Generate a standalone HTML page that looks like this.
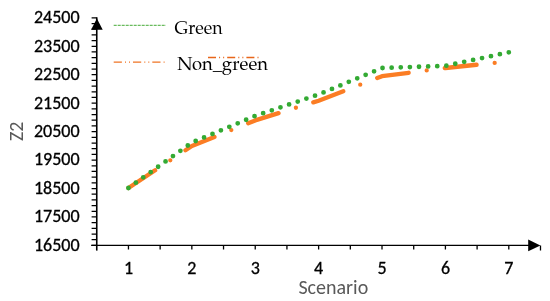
<!DOCTYPE html>
<html><head><meta charset="utf-8"><style>
html,body{margin:0;padding:0;background:#fff;}
svg{display:block;}
.tl{font-family:"Carlito","Liberation Sans",sans-serif;font-size:18px;fill:#000;stroke:#000;stroke-width:0.3px;}
.tt{font-family:"Carlito","Liberation Sans",sans-serif;font-size:20px;fill:#595959;}
.lg{font-family:"TeX Gyre Pagella","Liberation Serif",serif;font-size:18px;fill:#000;}
</style></head><body>
<svg width="550" height="301" viewBox="0 0 550 301">
<rect width="550" height="301" fill="#fff"/>
<path d="M91.6 245.40H96.75 M91.6 239.71H96.75 M91.6 234.02H96.75 M91.6 228.33H96.75 M91.6 222.64H96.75 M91.6 216.96H96.75 M91.6 211.27H96.75 M91.6 205.58H96.75 M91.6 199.89H96.75 M91.6 194.20H96.75 M91.6 188.51H96.75 M91.6 182.82H96.75 M91.6 177.13H96.75 M91.6 171.44H96.75 M91.6 165.75H96.75 M91.6 160.06H96.75 M91.6 154.38H96.75 M91.6 148.69H96.75 M91.6 143.00H96.75 M91.6 137.31H96.75 M91.6 131.62H96.75 M91.6 125.93H96.75 M91.6 120.24H96.75 M91.6 114.55H96.75 M91.6 108.86H96.75 M91.6 103.18H96.75 M91.6 97.49H96.75 M91.6 91.80H96.75 M91.6 86.11H96.75 M91.6 80.42H96.75 M91.6 74.73H96.75 M91.6 69.04H96.75 M91.6 63.35H96.75 M91.6 57.66H96.75 M91.6 51.97H96.75 M91.6 46.28H96.75 M91.6 40.60H96.75 M91.6 34.91H96.75 M91.6 29.22H96.75 M91.6 23.53H96.75 M91.6 17.84H96.75" stroke="#000" stroke-width="1.25" fill="none"/>
<path d="M128.45 245.40V249.6 M160.14 245.40V249.6 M191.84 245.40V249.6 M223.53 245.40V249.6 M255.23 245.40V249.6 M286.93 245.40V249.6 M318.62 245.40V249.6 M350.32 245.40V249.6 M382.01 245.40V249.6 M413.71 245.40V249.6 M445.41 245.40V249.6 M477.10 245.40V249.6 M508.80 245.40V249.6 M540.49 245.40V250.6" stroke="#000" stroke-width="1.3" fill="none"/>
<path d="M96.75 250.6V17.3" stroke="#000" stroke-width="1.6" fill="none"/>
<path d="M91.2 245.4H530" stroke="#000" stroke-width="1.4" fill="none"/>
<polygon points="96.9,18.6 91.1,29.8 102.7,29.8" fill="#000"/>
<polygon points="540.4,245.4 528.2,239.5 528.2,251.2" fill="#000"/>
<g class="tl"><text x="79.6" y="250.80" text-anchor="end">16500</text><text x="79.6" y="222.36" text-anchor="end">17500</text><text x="79.6" y="193.91" text-anchor="end">18500</text><text x="79.6" y="165.47" text-anchor="end">19500</text><text x="79.6" y="137.02" text-anchor="end">20500</text><text x="79.6" y="108.58" text-anchor="end">21500</text><text x="79.6" y="80.13" text-anchor="end">22500</text><text x="79.6" y="51.68" text-anchor="end">23500</text><text x="79.6" y="23.24" text-anchor="end">24500</text><text x="128.45" y="273.6" text-anchor="middle">1</text><text x="191.85" y="273.6" text-anchor="middle">2</text><text x="255.25" y="273.6" text-anchor="middle">3</text><text x="318.65" y="273.6" text-anchor="middle">4</text><text x="382.05" y="273.6" text-anchor="middle">5</text><text x="445.45" y="273.6" text-anchor="middle">6</text><text x="508.85" y="273.6" text-anchor="middle">7</text></g>
<text class="tt" x="333.3" y="293.7" text-anchor="middle">Scenario</text>
<text class="tt" transform="translate(23.2,131.3) rotate(-90)" text-anchor="middle">Z2</text>
<polyline points="128.45,188.00 191.85,146.00 255.25,120.40 318.65,100.70 382.05,76.20 445.45,68.00 508.85,61.40" fill="none" stroke="#fb7d24" stroke-width="4.3" stroke-linecap="round" stroke-linejoin="round" stroke-dasharray="32 18.2 0 18.2"/>
<polyline points="128.45,188.00 191.85,142.60 255.25,115.90 318.65,94.45 382.05,68.00 445.45,65.87 508.85,52.30" fill="none" stroke="#33aa33" stroke-width="4.8" stroke-linecap="round" stroke-linejoin="round" stroke-dasharray="0 9.125"/>
<path d="M113.7 25.4H166" stroke="#6abb5e" stroke-width="1.2" stroke-dasharray="3 1"/>
<path d="M113.7 62.1H165" stroke="#f07424" stroke-width="1.4" stroke-dasharray="8.2 3.1 1 3 1 3"/>
<path d="M208 57.5H259" stroke="#e8661a" stroke-width="1.3" stroke-dasharray="8 3.1 1 3.05 1 3.05"/>
<text class="lg" x="174.6" y="33.6" style="font-size:17.8px">Green</text>
<text class="lg" x="177.2" y="69.5" style="font-size:18.4px">Non_green</text>
</svg>
</body></html>
